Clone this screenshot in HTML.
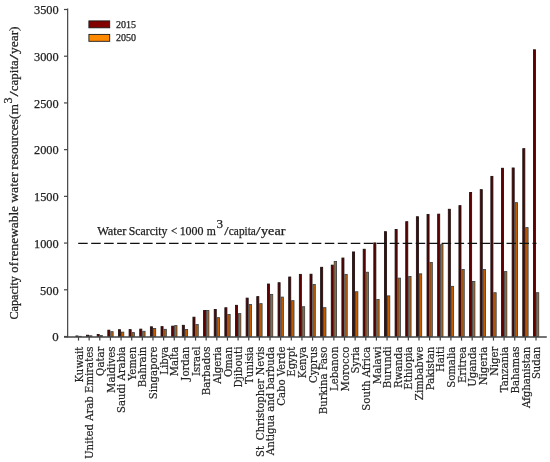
<!DOCTYPE html>
<html><head><meta charset="utf-8"><title>Renewable water resources</title>
<style>
html,body{margin:0;padding:0;background:#fff;}
body{width:550px;height:462px;overflow:hidden;}
svg{display:block;}
.t{font-family:"Liberation Serif",serif;fill:#222;stroke:#222;stroke-width:0.25px;}
.xl{font-family:"DejaVu Serif","Liberation Serif",serif;font-size:10.15px;fill:#222;stroke:#222;stroke-width:0.18px;}
</style></head><body>
<svg width="550" height="462" viewBox="0 0 550 462">
<rect width="550" height="462" fill="#fff"/>

<g stroke-width="0.85">
<rect x="75.90" y="335.95" width="2.05" height="0.55" fill="#5e0000" stroke="#1e1010"/>
<rect x="78.82" y="336.33" width="2.4" height="0.17" fill="#c45c00" stroke="#36444a"/>
<rect x="86.54" y="335.21" width="2.05" height="1.29" fill="#5e0000" stroke="#1e1010"/>
<rect x="89.46" y="335.77" width="2.4" height="0.73" fill="#c45c00" stroke="#36444a"/>
<rect x="97.18" y="334.46" width="2.05" height="2.04" fill="#5e0000" stroke="#1e1010"/>
<rect x="100.10" y="335.58" width="2.4" height="0.92" fill="#c45c00" stroke="#36444a"/>
<rect x="107.82" y="330.16" width="2.05" height="6.34" fill="#5e0000" stroke="#1e1010"/>
<rect x="110.74" y="331.65" width="2.4" height="4.85" fill="#c45c00" stroke="#36444a"/>
<rect x="118.46" y="329.69" width="2.05" height="6.81" fill="#5e0000" stroke="#1e1010"/>
<rect x="121.38" y="332.12" width="2.4" height="4.38" fill="#c45c00" stroke="#36444a"/>
<rect x="129.10" y="329.60" width="2.05" height="6.90" fill="#5e0000" stroke="#1e1010"/>
<rect x="132.02" y="332.59" width="2.4" height="3.91" fill="#c45c00" stroke="#36444a"/>
<rect x="139.74" y="329.13" width="2.05" height="7.37" fill="#5e0000" stroke="#1e1010"/>
<rect x="142.66" y="331.28" width="2.4" height="5.22" fill="#c45c00" stroke="#36444a"/>
<rect x="150.38" y="326.80" width="2.05" height="9.70" fill="#5e0000" stroke="#1e1010"/>
<rect x="153.30" y="328.48" width="2.4" height="8.02" fill="#c45c00" stroke="#36444a"/>
<rect x="161.02" y="326.61" width="2.05" height="9.89" fill="#5e0000" stroke="#1e1010"/>
<rect x="163.94" y="329.32" width="2.4" height="7.18" fill="#c45c00" stroke="#36444a"/>
<rect x="171.66" y="326.14" width="2.05" height="10.36" fill="#5e0000" stroke="#1e1010"/>
<rect x="174.58" y="325.58" width="2.4" height="10.92" fill="#c45c00" stroke="#36444a"/>
<rect x="182.30" y="325.30" width="2.05" height="11.20" fill="#5e0000" stroke="#1e1010"/>
<rect x="185.22" y="329.41" width="2.4" height="7.09" fill="#c45c00" stroke="#36444a"/>
<rect x="192.94" y="317.17" width="2.05" height="19.33" fill="#5e0000" stroke="#1e1010"/>
<rect x="195.86" y="324.55" width="2.4" height="11.95" fill="#c45c00" stroke="#36444a"/>
<rect x="203.58" y="310.54" width="2.05" height="25.96" fill="#5e0000" stroke="#1e1010"/>
<rect x="206.50" y="310.54" width="2.4" height="25.96" fill="#c45c00" stroke="#36444a"/>
<rect x="214.22" y="309.42" width="2.05" height="27.08" fill="#5e0000" stroke="#1e1010"/>
<rect x="217.14" y="317.64" width="2.4" height="18.86" fill="#c45c00" stroke="#36444a"/>
<rect x="224.86" y="307.74" width="2.05" height="28.76" fill="#5e0000" stroke="#1e1010"/>
<rect x="227.78" y="314.56" width="2.4" height="21.94" fill="#c45c00" stroke="#36444a"/>
<rect x="235.50" y="305.31" width="2.05" height="31.19" fill="#5e0000" stroke="#1e1010"/>
<rect x="238.42" y="313.62" width="2.4" height="22.88" fill="#c45c00" stroke="#36444a"/>
<rect x="246.14" y="298.11" width="2.05" height="38.39" fill="#5e0000" stroke="#1e1010"/>
<rect x="249.06" y="304.47" width="2.4" height="32.03" fill="#c45c00" stroke="#36444a"/>
<rect x="256.78" y="296.62" width="2.05" height="39.88" fill="#5e0000" stroke="#1e1010"/>
<rect x="259.70" y="303.63" width="2.4" height="32.87" fill="#c45c00" stroke="#36444a"/>
<rect x="267.42" y="284.01" width="2.05" height="52.49" fill="#5e0000" stroke="#1e1010"/>
<rect x="270.34" y="294.38" width="2.4" height="42.12" fill="#c45c00" stroke="#36444a"/>
<rect x="278.06" y="282.70" width="2.05" height="53.80" fill="#5e0000" stroke="#1e1010"/>
<rect x="280.98" y="297.09" width="2.4" height="39.41" fill="#c45c00" stroke="#36444a"/>
<rect x="288.70" y="277.00" width="2.05" height="59.50" fill="#5e0000" stroke="#1e1010"/>
<rect x="291.62" y="300.64" width="2.4" height="35.86" fill="#c45c00" stroke="#36444a"/>
<rect x="299.34" y="274.38" width="2.05" height="62.12" fill="#5e0000" stroke="#1e1010"/>
<rect x="302.26" y="306.71" width="2.4" height="29.79" fill="#c45c00" stroke="#36444a"/>
<rect x="309.98" y="274.20" width="2.05" height="62.30" fill="#5e0000" stroke="#1e1010"/>
<rect x="312.90" y="284.57" width="2.4" height="51.93" fill="#c45c00" stroke="#36444a"/>
<rect x="320.62" y="267.28" width="2.05" height="69.22" fill="#5e0000" stroke="#1e1010"/>
<rect x="323.54" y="307.64" width="2.4" height="28.86" fill="#c45c00" stroke="#36444a"/>
<rect x="331.26" y="265.13" width="2.05" height="71.37" fill="#5e0000" stroke="#1e1010"/>
<rect x="334.18" y="261.40" width="2.4" height="75.10" fill="#c45c00" stroke="#36444a"/>
<rect x="341.90" y="258.03" width="2.05" height="78.47" fill="#5e0000" stroke="#1e1010"/>
<rect x="344.82" y="274.38" width="2.4" height="62.12" fill="#c45c00" stroke="#36444a"/>
<rect x="352.54" y="251.96" width="2.05" height="84.54" fill="#5e0000" stroke="#1e1010"/>
<rect x="355.46" y="291.76" width="2.4" height="44.74" fill="#c45c00" stroke="#36444a"/>
<rect x="363.18" y="249.25" width="2.05" height="87.25" fill="#5e0000" stroke="#1e1010"/>
<rect x="366.10" y="272.23" width="2.4" height="64.27" fill="#c45c00" stroke="#36444a"/>
<rect x="373.82" y="242.90" width="2.05" height="93.60" fill="#5e0000" stroke="#1e1010"/>
<rect x="376.74" y="299.52" width="2.4" height="36.98" fill="#c45c00" stroke="#36444a"/>
<rect x="384.46" y="231.69" width="2.05" height="104.81" fill="#5e0000" stroke="#1e1010"/>
<rect x="387.38" y="295.87" width="2.4" height="40.63" fill="#c45c00" stroke="#36444a"/>
<rect x="395.10" y="229.44" width="2.05" height="107.06" fill="#5e0000" stroke="#1e1010"/>
<rect x="398.02" y="278.12" width="2.4" height="58.38" fill="#c45c00" stroke="#36444a"/>
<rect x="405.74" y="221.69" width="2.05" height="114.81" fill="#5e0000" stroke="#1e1010"/>
<rect x="408.66" y="276.44" width="2.4" height="60.06" fill="#c45c00" stroke="#36444a"/>
<rect x="416.38" y="216.74" width="2.05" height="119.76" fill="#5e0000" stroke="#1e1010"/>
<rect x="419.30" y="273.82" width="2.4" height="62.68" fill="#c45c00" stroke="#36444a"/>
<rect x="427.02" y="214.40" width="2.05" height="122.10" fill="#5e0000" stroke="#1e1010"/>
<rect x="429.94" y="262.52" width="2.4" height="73.98" fill="#c45c00" stroke="#36444a"/>
<rect x="437.66" y="214.12" width="2.05" height="122.38" fill="#5e0000" stroke="#1e1010"/>
<rect x="440.58" y="244.58" width="2.4" height="91.92" fill="#c45c00" stroke="#36444a"/>
<rect x="448.30" y="209.26" width="2.05" height="127.24" fill="#5e0000" stroke="#1e1010"/>
<rect x="451.22" y="286.34" width="2.4" height="50.16" fill="#c45c00" stroke="#36444a"/>
<rect x="458.94" y="205.62" width="2.05" height="130.88" fill="#5e0000" stroke="#1e1010"/>
<rect x="461.86" y="269.52" width="2.4" height="66.98" fill="#c45c00" stroke="#36444a"/>
<rect x="469.58" y="192.45" width="2.05" height="144.05" fill="#5e0000" stroke="#1e1010"/>
<rect x="472.50" y="281.48" width="2.4" height="55.02" fill="#c45c00" stroke="#36444a"/>
<rect x="480.22" y="189.64" width="2.05" height="146.86" fill="#5e0000" stroke="#1e1010"/>
<rect x="483.14" y="269.52" width="2.4" height="66.98" fill="#c45c00" stroke="#36444a"/>
<rect x="490.86" y="176.38" width="2.05" height="160.12" fill="#5e0000" stroke="#1e1010"/>
<rect x="493.78" y="292.70" width="2.4" height="43.80" fill="#c45c00" stroke="#36444a"/>
<rect x="501.50" y="168.25" width="2.05" height="168.25" fill="#5e0000" stroke="#1e1010"/>
<rect x="504.42" y="271.58" width="2.4" height="64.92" fill="#c45c00" stroke="#36444a"/>
<rect x="512.14" y="167.97" width="2.05" height="168.53" fill="#5e0000" stroke="#1e1010"/>
<rect x="515.06" y="202.63" width="2.4" height="133.87" fill="#c45c00" stroke="#36444a"/>
<rect x="522.78" y="148.63" width="2.05" height="187.87" fill="#5e0000" stroke="#1e1010"/>
<rect x="525.70" y="227.58" width="2.4" height="108.92" fill="#c45c00" stroke="#36444a"/>
<rect x="533.42" y="49.78" width="2.05" height="286.72" fill="#5e0000" stroke="#1e1010"/>
<rect x="536.34" y="292.70" width="2.4" height="43.80" fill="#c45c00" stroke="#36444a"/>
</g>
<line x1="78.2" y1="243.35" x2="536.5" y2="243.35" stroke="#101010" stroke-width="1.3" stroke-dasharray="9.5 3.48"/>
<g stroke="#454545" stroke-width="1.2" fill="none">
<line x1="67.65" y1="8.6" x2="67.65" y2="337.5"/>
<line x1="64" y1="336.9" x2="546.8" y2="336.9" stroke-width="1.5"/>
<line x1="64" y1="336.50" x2="67.65" y2="336.50"/>
<line x1="64" y1="289.79" x2="67.65" y2="289.79"/>
<line x1="64" y1="243.07" x2="67.65" y2="243.07"/>
<line x1="64" y1="196.36" x2="67.65" y2="196.36"/>
<line x1="64" y1="149.64" x2="67.65" y2="149.64"/>
<line x1="64" y1="102.93" x2="67.65" y2="102.93"/>
<line x1="64" y1="56.21" x2="67.65" y2="56.21"/>
<line x1="64" y1="9.50" x2="67.65" y2="9.50"/>
<line x1="78.50" y1="336.8" x2="78.50" y2="340.6"/>
<line x1="89.14" y1="336.8" x2="89.14" y2="340.6"/>
<line x1="99.78" y1="336.8" x2="99.78" y2="340.6"/>
<line x1="110.42" y1="336.8" x2="110.42" y2="340.6"/>
<line x1="121.06" y1="336.8" x2="121.06" y2="340.6"/>
<line x1="131.70" y1="336.8" x2="131.70" y2="340.6"/>
<line x1="142.34" y1="336.8" x2="142.34" y2="340.6"/>
<line x1="152.98" y1="336.8" x2="152.98" y2="340.6"/>
<line x1="163.62" y1="336.8" x2="163.62" y2="340.6"/>
<line x1="174.26" y1="336.8" x2="174.26" y2="340.6"/>
<line x1="184.90" y1="336.8" x2="184.90" y2="340.6"/>
<line x1="195.54" y1="336.8" x2="195.54" y2="340.6"/>
<line x1="206.18" y1="336.8" x2="206.18" y2="340.6"/>
<line x1="216.82" y1="336.8" x2="216.82" y2="340.6"/>
<line x1="227.46" y1="336.8" x2="227.46" y2="340.6"/>
<line x1="238.10" y1="336.8" x2="238.10" y2="340.6"/>
<line x1="248.74" y1="336.8" x2="248.74" y2="340.6"/>
<line x1="259.38" y1="336.8" x2="259.38" y2="340.6"/>
<line x1="270.02" y1="336.8" x2="270.02" y2="340.6"/>
<line x1="280.66" y1="336.8" x2="280.66" y2="340.6"/>
<line x1="291.30" y1="336.8" x2="291.30" y2="340.6"/>
<line x1="301.94" y1="336.8" x2="301.94" y2="340.6"/>
<line x1="312.58" y1="336.8" x2="312.58" y2="340.6"/>
<line x1="323.22" y1="336.8" x2="323.22" y2="340.6"/>
<line x1="333.86" y1="336.8" x2="333.86" y2="340.6"/>
<line x1="344.50" y1="336.8" x2="344.50" y2="340.6"/>
<line x1="355.14" y1="336.8" x2="355.14" y2="340.6"/>
<line x1="365.78" y1="336.8" x2="365.78" y2="340.6"/>
<line x1="376.42" y1="336.8" x2="376.42" y2="340.6"/>
<line x1="387.06" y1="336.8" x2="387.06" y2="340.6"/>
<line x1="397.70" y1="336.8" x2="397.70" y2="340.6"/>
<line x1="408.34" y1="336.8" x2="408.34" y2="340.6"/>
<line x1="418.98" y1="336.8" x2="418.98" y2="340.6"/>
<line x1="429.62" y1="336.8" x2="429.62" y2="340.6"/>
<line x1="440.26" y1="336.8" x2="440.26" y2="340.6"/>
<line x1="450.90" y1="336.8" x2="450.90" y2="340.6"/>
<line x1="461.54" y1="336.8" x2="461.54" y2="340.6"/>
<line x1="472.18" y1="336.8" x2="472.18" y2="340.6"/>
<line x1="482.82" y1="336.8" x2="482.82" y2="340.6"/>
<line x1="493.46" y1="336.8" x2="493.46" y2="340.6"/>
<line x1="504.10" y1="336.8" x2="504.10" y2="340.6"/>
<line x1="514.74" y1="336.8" x2="514.74" y2="340.6"/>
<line x1="525.38" y1="336.8" x2="525.38" y2="340.6"/>
<line x1="536.02" y1="336.8" x2="536.02" y2="340.6"/>
</g>
<text class="t" x="52.27" y="341.25" font-size="13.5" textLength="6.43" lengthAdjust="spacingAndGlyphs">0</text>
<text class="t" x="40.11" y="294.54" font-size="13.5" textLength="18.59" lengthAdjust="spacingAndGlyphs">500</text>
<text class="t" x="34.03" y="247.82" font-size="13.5" textLength="24.67" lengthAdjust="spacingAndGlyphs">1000</text>
<text class="t" x="34.03" y="201.11" font-size="13.5" textLength="24.67" lengthAdjust="spacingAndGlyphs">1500</text>
<text class="t" x="34.03" y="154.39" font-size="13.5" textLength="24.67" lengthAdjust="spacingAndGlyphs">2000</text>
<text class="t" x="34.03" y="107.68" font-size="13.5" textLength="24.67" lengthAdjust="spacingAndGlyphs">2500</text>
<text class="t" x="34.03" y="60.96" font-size="13.5" textLength="24.67" lengthAdjust="spacingAndGlyphs">3000</text>
<text class="t" x="34.03" y="14.25" font-size="13.5" textLength="24.67" lengthAdjust="spacingAndGlyphs">3500</text>
<text class="xl" text-anchor="end" transform="translate(82.65 346.6) rotate(-90)">Kuwait</text>
<text class="xl" text-anchor="end" transform="translate(93.29 346.6) rotate(-90)">United Arab Emirates</text>
<text class="xl" text-anchor="end" transform="translate(103.93 346.6) rotate(-90)">Qatar</text>
<text class="xl" text-anchor="end" transform="translate(114.57 346.6) rotate(-90)">Maldives</text>
<text class="xl" text-anchor="end" transform="translate(125.21 346.6) rotate(-90)">Saudi Arabia</text>
<text class="xl" text-anchor="end" transform="translate(135.85 346.6) rotate(-90)">Yemen</text>
<text class="xl" text-anchor="end" transform="translate(146.49 346.6) rotate(-90)">Bahrain</text>
<text class="xl" text-anchor="end" transform="translate(157.13 346.6) rotate(-90)">Singapore</text>
<text class="xl" text-anchor="end" transform="translate(167.77 346.6) rotate(-90)">Libya</text>
<text class="xl" text-anchor="end" transform="translate(178.41 346.6) rotate(-90)">Malta</text>
<text class="xl" text-anchor="end" transform="translate(189.05 346.6) rotate(-90)">Jordan</text>
<text class="xl" text-anchor="end" transform="translate(199.69 346.6) rotate(-90)">Israel</text>
<text class="xl" text-anchor="end" transform="translate(210.33 346.6) rotate(-90)">Barbados</text>
<text class="xl" text-anchor="end" transform="translate(220.97 346.6) rotate(-90)">Algeria</text>
<text class="xl" text-anchor="end" transform="translate(231.61 346.6) rotate(-90)">Oman</text>
<text class="xl" text-anchor="end" transform="translate(242.25 346.6) rotate(-90)">Djibouti</text>
<text class="xl" text-anchor="end" transform="translate(252.89 346.6) rotate(-90)">Tunisia</text>
<text class="xl" text-anchor="end" transform="translate(263.53 346.6) rotate(-90)">St<tspan dx="2.4"> Christopher Nevis</tspan></text>
<text class="xl" text-anchor="end" transform="translate(274.17 346.6) rotate(-90)">Antigua and barbuda</text>
<text class="xl" text-anchor="end" transform="translate(284.81 346.6) rotate(-90)">Cabo Verde</text>
<text class="xl" text-anchor="end" transform="translate(295.45 346.6) rotate(-90)">Egypt</text>
<text class="xl" text-anchor="end" transform="translate(306.09 346.6) rotate(-90)">Kenya</text>
<text class="xl" text-anchor="end" transform="translate(316.73 346.6) rotate(-90)">Cyprus</text>
<text class="xl" text-anchor="end" transform="translate(327.37 346.6) rotate(-90)">Burkina Faso</text>
<text class="xl" text-anchor="end" transform="translate(338.01 346.6) rotate(-90)">Lebanon</text>
<text class="xl" text-anchor="end" transform="translate(348.65 346.6) rotate(-90)">Morocco</text>
<text class="xl" text-anchor="end" transform="translate(359.29 346.6) rotate(-90)">Syria</text>
<text class="xl" text-anchor="end" transform="translate(369.93 346.6) rotate(-90)">South Africa</text>
<text class="xl" text-anchor="end" transform="translate(380.57 346.6) rotate(-90)">Malawi</text>
<text class="xl" text-anchor="end" transform="translate(391.21 346.6) rotate(-90)">Burundi</text>
<text class="xl" text-anchor="end" transform="translate(401.85 346.6) rotate(-90)">Rwanda</text>
<text class="xl" text-anchor="end" transform="translate(412.49 346.6) rotate(-90)">Ethiopia</text>
<text class="xl" text-anchor="end" transform="translate(423.13 346.6) rotate(-90)">Zimbabwe</text>
<text class="xl" text-anchor="end" transform="translate(433.77 346.6) rotate(-90)">Pakistan</text>
<text class="xl" text-anchor="end" transform="translate(444.41 346.6) rotate(-90)">Haiti</text>
<text class="xl" text-anchor="end" transform="translate(455.05 346.6) rotate(-90)">Somalia</text>
<text class="xl" text-anchor="end" transform="translate(465.69 346.6) rotate(-90)">Eritrea</text>
<text class="xl" text-anchor="end" transform="translate(476.33 346.6) rotate(-90)">Uganda</text>
<text class="xl" text-anchor="end" transform="translate(486.97 346.6) rotate(-90)">Nigeria</text>
<text class="xl" text-anchor="end" transform="translate(497.61 346.6) rotate(-90)">Niger</text>
<text class="xl" text-anchor="end" transform="translate(508.25 346.6) rotate(-90)">Tanzania</text>
<text class="xl" text-anchor="end" transform="translate(518.89 346.6) rotate(-90)">Bahamas</text>
<text class="xl" text-anchor="end" transform="translate(529.53 346.6) rotate(-90)">Afghanistan</text>
<text class="xl" text-anchor="end" transform="translate(540.17 346.6) rotate(-90)">Sudan</text>
<text class="t" font-size="13" transform="translate(18.2 320) rotate(-90)"><tspan x="0.38" y="0" textLength="43.57" lengthAdjust="spacingAndGlyphs">Capacity</tspan> <tspan x="47.31" y="0" textLength="10.57" lengthAdjust="spacingAndGlyphs">of</tspan> <tspan x="59.14" y="0" textLength="54.93" lengthAdjust="spacingAndGlyphs">renewable</tspan> <tspan x="117.20" y="0" textLength="30.53" lengthAdjust="spacingAndGlyphs">water</tspan> <tspan x="150.24" y="0" textLength="65.80" lengthAdjust="spacingAndGlyphs">resources(m</tspan><tspan x="216.4" y="-6.4" font-size="12">3</tspan><tspan x="223.60" y="0" textLength="5.22" lengthAdjust="spacingAndGlyphs">/</tspan><tspan x="228.80" y="0" textLength="30.98" lengthAdjust="spacingAndGlyphs">capita</tspan><tspan x="260.00" y="0" textLength="5.72" lengthAdjust="spacingAndGlyphs">/</tspan><tspan x="265.94" y="0" textLength="27.68" lengthAdjust="spacingAndGlyphs">year)</tspan></text>
<text class="t" font-size="12.5"><tspan x="97.20" y="235.2" textLength="29.23" lengthAdjust="spacingAndGlyphs">Water</tspan> <tspan x="128.80" y="235.2" textLength="38.55" lengthAdjust="spacingAndGlyphs">Scarcity</tspan> <tspan x="171.06" y="235.2" textLength="6.39" lengthAdjust="spacingAndGlyphs">&lt;</tspan> <tspan x="179.65" y="235.2" textLength="23.93" lengthAdjust="spacingAndGlyphs">1000</tspan> <tspan x="206.67" y="235.2" textLength="9.10" lengthAdjust="spacingAndGlyphs">m</tspan><tspan x="216.57" y="228.3" font-size="12.5" textLength="6.55" lengthAdjust="spacingAndGlyphs">3</tspan><tspan x="224.30" y="235.2" textLength="4.33" lengthAdjust="spacingAndGlyphs">/</tspan><tspan x="228.85" y="235.2" textLength="26.98" lengthAdjust="spacingAndGlyphs">capita</tspan><tspan x="255.70" y="235.2" textLength="4.83" lengthAdjust="spacingAndGlyphs">/</tspan><tspan x="261.03" y="235.2" textLength="24.39" lengthAdjust="spacingAndGlyphs">year</tspan></text>
<rect x="88.9" y="20.9" width="20.8" height="6.9" fill="#820000" stroke="#1a1a1a" stroke-width="0.9"/>
<rect x="88.9" y="34.4" width="20.8" height="6.9" fill="#ff8a00" stroke="#1a1a1a" stroke-width="0.9"/>
<text class="t" x="116" y="27.9" font-size="10">2015</text>
<text class="t" x="116" y="41.4" font-size="10">2050</text>
</svg>
</body></html>
